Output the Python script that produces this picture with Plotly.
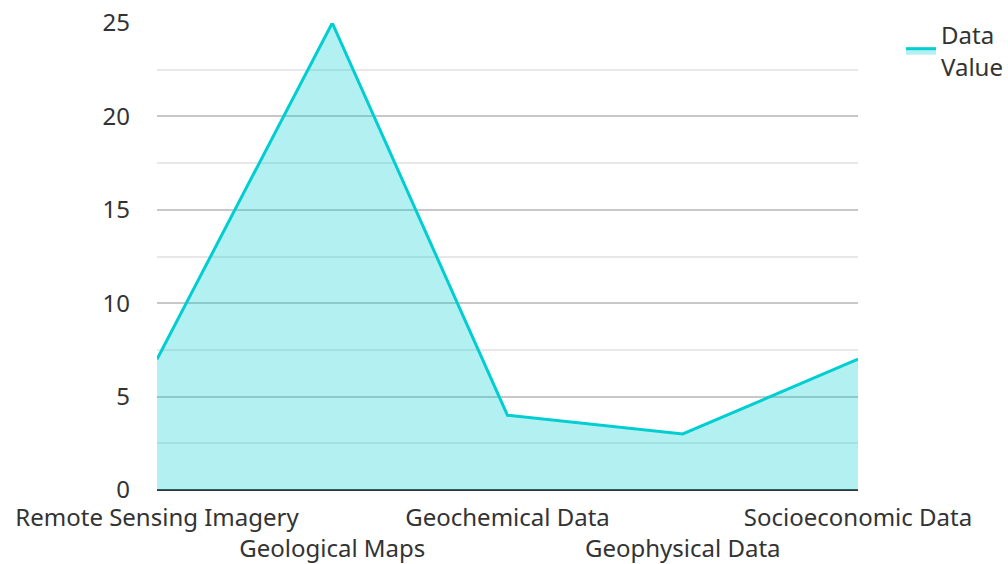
import plotly.graph_objects as go

categories = ["Remote Sensing Imagery", "Geological Maps", "Geochemical Data", "Geophysical Data", "Socioeconomic Data"]
values = [7, 25, 4, 3, 7]
series_name = "Data<br>Value"

ticktext = [c if i % 2 == 0 else "<br>" + c for i, c in enumerate(categories)]

FS = 24
fig = go.Figure()
fig.add_trace(go.Scatter(
    x=categories, y=values, mode="lines", name=series_name,
    line=dict(color="#00CED1", width=3),
    fill="tozeroy", fillcolor="rgba(0,206,209,0.3)",
))

fig.update_layout(
    width=1008, height=564,
    margin=dict(l=157, r=150, t=23, b=74),
    paper_bgcolor="white", plot_bgcolor="white",
    font=dict(family="Noto Sans", size=FS, color="#333333"),
    showlegend=True,
    legend=dict(xref="container", yref="container", x=1.0, xanchor="right",
                y=0.977, yanchor="top",
                font=dict(size=FS, color="#333333"), bgcolor="rgba(0,0,0,0)"),
    xaxis=dict(
        tickmode="array", tickvals=categories, ticktext=ticktext,
        showgrid=False, showline=False, zeroline=False, ticks="",
        range=[0, 4], tickangle=0, automargin=False,
        ticklabelstandoff=11, ticklabeloverflow="allow",
        tickfont=dict(size=FS, color="#333333"),
    ),
    yaxis=dict(
        range=[0, 25], tick0=0, dtick=5, showgrid=True, gridcolor="#c8c8c8", gridwidth=1.5,
        zeroline=True, zerolinecolor="#333333", zerolinewidth=2,
        showline=False, ticks="", automargin=False,
        ticklabelstandoff=26, ticklabeloverflow="allow",
        tickfont=dict(size=FS, color="#333333"),
        minor=dict(dtick=2.5, showgrid=True, gridcolor="#e8e8e8", gridwidth=1.5),
    ),
)

fig.write_html(
    "out.html",
    config={"displayModeBar": False},
    post_script="document.body.style.margin='0';document.body.style.overflow='hidden';",
)
